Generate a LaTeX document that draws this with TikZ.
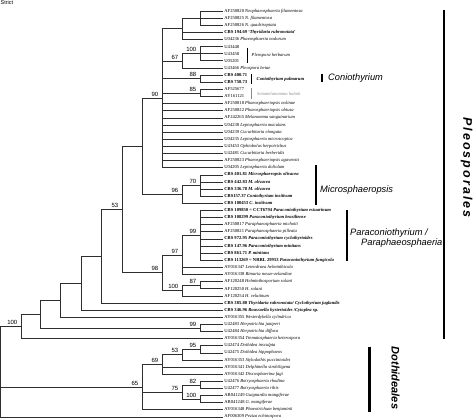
\documentclass[tikz,border=0pt]{standalone}
\usepackage{fontspec}
\setmainfont{Liberation Serif}
\setsansfont{Liberation Sans}
\definecolor{treeline}{HTML}{2E2E2E}
\definecolor{fadegray}{HTML}{8A8A8A}

\begin{document}
\begin{tikzpicture}[x=1pt, y=-1pt,
  br/.style={draw=treeline, line width=0.6pt},
  taxon/.style={anchor=west, inner sep=1.2pt, font=\fontsize{4.6}{5}\selectfont},
  strain/.style={taxon, font=\fontsize{4.6}{5}\selectfont\bfseries},
  bs/.style={anchor=south east, inner sep=0.5pt, xshift=-3pt, yshift=1pt, font=\sffamily\fontsize{6}{6}\selectfont},
  grp/.style={anchor=west, inner sep=0pt, font=\sffamily\itshape\fontsize{9.3}{10}\selectfont},
  ord/.style={rotate=-90, inner sep=0pt, font=\sffamily\bfseries\itshape\fontsize{11}{12}\selectfont},
  clbar/.style={line width=1.8pt},
  spbar/.style={line width=0.7pt},
]
\useasboundingbox (0,0) rectangle (474,420);

\node[anchor=north west, inner sep=0.5pt, font=\sffamily\fontsize{5.5}{6}\selectfont] (title) at (0,0) {Strict};

% Leaves: Pleosporales
\node[taxon] (l1) at (223, 11.0) {AF250820 \textit{Neophaeosphaeria filamentosa}};
\node[taxon] (l2) at (223, 18.1) {AF250825 \textit{N. filamentosa}};
\node[taxon] (l3) at (223, 25.2) {AF250826 \textit{N. quadriseptata}};
\node[strain] (l4) at (223, 32.4) {CBS 194.69 `\textit{Thyridaria rubronotata}'};
\node[taxon] (l5) at (223, 39.5) {U04236 \textit{Phaeosphaeria nodorum}};
\node[taxon] (l6) at (223, 46.6) {U43448};
\node[taxon] (l7) at (223, 53.7) {U43458};
\node[taxon] (l8) at (223, 60.8) {U05201};
\node[taxon] (l9) at (223, 68.0) {U43466 \textit{Pleospora betae}};
\node[strain] (l10) at (223, 75.1) {CBS 400.71};
\node[strain] (l11) at (223, 82.2) {CBS 758.73};
\node[taxon] (l12) at (223, 89.3) {AF525677};
\node[taxon] (l13) at (223, 96.4) {AY161121};
\node[taxon] (l14) at (223, 103.6) {AF250818 \textit{Phaeosphaeriopsis nolinae}};
\node[taxon] (l15) at (223, 110.7) {AF250822 \textit{Phaeosphaeriopsis obtusa}};
\node[taxon] (l16) at (223, 117.8) {AF242265 \textit{Melanomma sanguinarium}};
\node[taxon] (l17) at (223, 124.9) {U04238 \textit{Leptosphaeria maculans}};
\node[taxon] (l18) at (223, 132.0) {U04239 \textit{Cucurbitaria elongata}};
\node[taxon] (l19) at (223, 139.2) {U04235 \textit{Leptosphaeria microscopica}};
\node[taxon] (l20) at (223, 146.3) {U43453 \textit{Ophiobolus herpotrichus}};
\node[taxon] (l21) at (223, 153.4) {U42481 \textit{Cucurbitaria berberidis}};
\node[taxon] (l22) at (223, 160.5) {AF250823 \textit{Phaeosphaeriopsis agavensis}};
\node[taxon] (l23) at (223, 167.6) {U04205 \textit{Leptosphaeria doliolum}};
\node[strain] (l24) at (223, 174.8) {CBS 401.81 \textit{Microsphaeropsis olivacea}};
\node[strain] (l25) at (223, 181.9) {CBS 442.83 \textit{M. olivacea}};
\node[strain] (l26) at (223, 189.0) {CBS 336.78 \textit{M. olivacea}};
\node[strain] (l27) at (223, 196.1) {CBS157.37 \textit{Coniothyrium insitivum}};
\node[strain] (l28) at (223, 203.2) {CBS 100453 \textit{C. insitivum}};
\node[strain] (l29) at (223, 210.4) {CBS 109850 = CCT6794 \textit{Paraconiothyrium estuarinum}};
\node[strain] (l30) at (223, 217.5) {CBS 108299 \textit{Paraconiothyrium brasiliense}};
\node[taxon] (l31) at (223, 224.6) {AF250817 \textit{Paraphaeosphaeria michotii}};
\node[taxon] (l32) at (223, 231.7) {AF250821 \textit{Paraphaeosphaeria pilleata}};
\node[strain] (l33) at (223, 238.8) {CBS 972.95 \textit{Paraconiothyrium cyclothyrioides}};
\node[strain] (l34) at (223, 246.0) {CBS 147.96 \textit{Paraconiothyrium minitans}};
\node[strain] (l35) at (223, 253.1) {CBS 861.71 \textit{P. minitans}};
\node[strain] (l36) at (223, 260.2) {CBS 113269 = NRRL 29953 \textit{Paraconiothyrium fungicola}};
\node[taxon] (l37) at (223, 267.3) {AY016347 \textit{Letendraea helminthicola}};
\node[taxon] (l38) at (223, 274.4) {AY016338 \textit{Bimuria novae-zelandiae}};
\node[taxon] (l39) at (223, 281.6) {AF120248 \textit{Helminthosporium solani}};
\node[taxon] (l40) at (223, 288.7) {AF120250 \textit{H. solani}};
\node[taxon] (l41) at (223, 295.8) {AF120254 \textit{H. velutinum}};
\node[strain] (l42) at (223, 302.9) {CBS 385.80 \textit{Thyridaria rubronotata}/ \textit{Cyclothyrium juglandis}};
\node[strain] (l43) at (223, 310.0) {CBS 346.96 \textit{Roussoella hysterioides} /\textit{Cytoplea} sp.};
\node[taxon] (l44) at (223, 317.2) {AY016355 \textit{Westerdykella cylindrica}};
\node[taxon] (l45) at (223, 324.3) {U42483 \textit{Herpotrichia juniperi}};
\node[taxon] (l46) at (223, 331.4) {U42484 \textit{Herpotrichia diffusa}};
\node[taxon] (l47) at (223, 338.5) {AY016354 \textit{Trematosphaeria heterospora}};

% Leaves: Dothideales and outgroup
\node[taxon] (l48) at (223, 345.6) {U42474 \textit{Dothidea insculpta}};
\node[taxon] (l49) at (223, 352.8) {U42475 \textit{Dothidea hippophaeos}};
\node[taxon] (l50) at (223, 359.9) {AY016353 \textit{Stylodothis puccinioides}};
\node[taxon] (l51) at (223, 367.0) {AY016341 \textit{Delphinella strobiligena}};
\node[taxon] (l52) at (223, 374.1) {AY016342 \textit{Discosphaerina fagi}};
\node[taxon] (l53) at (223, 381.2) {U42476 \textit{Botryosphaeria rhodina}};
\node[taxon] (l54) at (223, 388.4) {U42477 \textit{Botryosphaeria ribis}};
\node[taxon] (l55) at (223, 395.5) {AB041249 \textit{Guignardia mangiferae}};
\node[taxon] (l56) at (223, 402.6) {AB041248 \textit{G. mangiferae}};
\node[taxon] (l57) at (223, 409.7) {AY016348 \textit{Phaeotrichum benjaminii}};
\node[taxon] (l58) at (223, 416.8) {AF006309 \textit{Peziza echinospora}};

% Internal nodes
\coordinate (root) at (0.4, 371.5);
\coordinate (n100a) at (21, 326.25);
\coordinate (nE) at (40, 314);
\coordinate (nD) at (60, 300.15);
\coordinate (nC) at (81, 283.1);
\coordinate (nB) at (101, 256.2);
\coordinate (n53) at (122, 209.5);
\coordinate (nA) at (142, 146.25);
\coordinate (n90) at (162, 98.2);
\coordinate (nNeo) at (182, 28.8);
\coordinate (nNeo3) at (200, 18.1);
\coordinate (n67) at (182, 60.85);
\coordinate (nPle) at (200, 53.7);
\coordinate (n88) at (200, 78.65);
\coordinate (n85) at (200, 92.85);
\coordinate (n96) at (182, 194.3);
\coordinate (n70) at (200, 185.45);
\coordinate (n98) at (162, 272.7);
\coordinate (n97) at (182, 254.85);
\coordinate (n99a) at (200, 235.3);
\coordinate (n100b) at (182, 290.5);
\coordinate (n87) at (200, 285.15);
\coordinate (n99b) at (200, 327.85);
\coordinate (n65) at (142, 387);
\coordinate (n69) at (162, 364.3);
\coordinate (n53b) at (182, 354.55);
\coordinate (n95) at (200, 349.2);
\coordinate (n75) at (182, 391.9);
\coordinate (n82) at (200, 384.8);
\coordinate (n100c) at (200, 399.05);

% Branches
\draw[br] (root) |- (n100a) (root) |- (n65) (root) |- (l58.west);
\draw[br] (n100a) |- (nE) (n100a) |- (l47.west);
\draw[br] (nE) |- (nD) (nE) |- (n99b);
\draw[br] (nD) |- (nC) (nD) |- (l44.west);
\draw[br] (nC) |- (nB) (nC) |- (l43.west);
\draw[br] (nB) |- (n53) (nB) |- (l42.west);
\draw[br] (n53) |- (nA) (n53) |- (n98);
\draw[br] (nA) |- (n90) (nA) |- (n96);
\draw[br] (n90) |- (nNeo) (n90) |- (n67) (n90) |- (n88) (n90) |- (n85)
  (n90) |- (l14.west) (n90) |- (l15.west) (n90) |- (l16.west) (n90) |- (l17.west)
  (n90) |- (l18.west) (n90) |- (l19.west) (n90) |- (l20.west) (n90) |- (l21.west)
  (n90) |- (l22.west) (n90) |- (l23.west);
\draw[br] (nNeo) |- (nNeo3) (nNeo) |- (l4.west) (nNeo) |- (l5.west);
\draw[br] (nNeo3) |- (l1.west) (nNeo3) |- (l2.west) (nNeo3) |- (l3.west);
\draw[br] (n67) |- (nPle) (n67) |- (l9.west);
\draw[br] (nPle) |- (l6.west) (nPle) |- (l7.west) (nPle) |- (l8.west);
\draw[br] (n88) |- (l10.west) (n88) |- (l11.west);
\draw[br] (n85) |- (l12.west) (n85) |- (l13.west);
\draw[br] (n96) |- (n70) (n96) |- (l28.west);
\draw[br] (n70) |- (l24.west) (n70) |- (l25.west) (n70) |- (l26.west) (n70) |- (l27.west);
\draw[br] (n98) |- (n97) (n98) |- (n100b);
\draw[br] (n97) |- (n99a) (n97) |- (l37.west) (n97) |- (l38.west);
\draw[br] (n99a) |- (l29.west) (n99a) |- (l30.west) (n99a) |- (l31.west) (n99a) |- (l32.west)
  (n99a) |- (l33.west) (n99a) |- (l34.west) (n99a) |- (l35.west) (n99a) |- (l36.west);
\draw[br] (n100b) |- (n87) (n100b) |- (l41.west);
\draw[br] (n87) |- (l39.west) (n87) |- (l40.west);
\draw[br] (n99b) |- (l45.west) (n99b) |- (l46.west);
\draw[br] (n65) |- (n69) (n65) |- (n75) (n65) |- (l57.west);
\draw[br] (n69) |- (n53b) (n69) |- (l51.west) (n69) |- (l52.west);
\draw[br] (n53b) |- (n95) (n53b) |- (l50.west);
\draw[br] (n95) |- (l48.west) (n95) |- (l49.west);
\draw[br] (n75) |- (n82) (n75) |- (n100c);
\draw[br] (n82) |- (l53.west) (n82) |- (l54.west);
\draw[br] (n100c) |- (l55.west) (n100c) |- (l56.west);

% Bootstrap values
\node[bs] (b100a) at (n100a) {100};
\node[bs] (b53) at (n53) {53};
\node[bs] (b90) at (n90) {90};
\node[bs] (bPle) at (nPle) {100};
\node[bs] (b67) at (n67) {67};
\node[bs] (b88) at (n88) {88};
\node[bs] (b85) at (n85) {85};
\node[bs] (b70) at (n70) {70};
\node[bs] (b96) at (n96) {96};
\node[bs] (b98) at (n98) {98};
\node[bs] (b97) at (n97) {97};
\node[bs] (b99a) at (n99a) {99};
\node[bs] (b87) at (n87) {87};
\node[bs] (b100b) at (n100b) {100};
\node[bs] (b99b) at (n99b) {99};
\node[bs] (b65) at (n65) {65};
\node[bs] (b69) at (n69) {69};
\node[bs] (b53b) at (n53b) {53};
\node[bs] (b95) at (n95) {95};
\node[bs] (b75) at (n75) {75};
\node[bs] (b82) at (n82) {82};
\node[bs] (b100c) at (n100c) {100};

% Species brackets
\draw[spbar] (247, 47.7) -- (247, 63.3);
\node[taxon, inner sep=0pt] (pherb) at (251.5, 55) {\textit{Pleospora herbarum}};
\draw[spbar, line width=1pt] (251.5, 74.3) -- (251.5, 84.3);
\node[taxon, inner sep=0pt] (cpalm) at (256.5, 79) {\textbf{\textit{Coniothyrium palmarum}}};
\draw[spbar, fadegray] (251.5, 87.7) -- (251.5, 99.3);
\node[taxon, inner sep=0pt, text=fadegray] (sholm) at (257, 93.5) {\textit{Setomelanomma holmii}};

% Genus brackets
\draw[clbar] (322, 74) -- (322, 82);
\node[grp] (coni) at (328, 78) {Coniothyrium};
\draw[clbar] (316, 165) -- (316, 205);
\node[grp] (micro) at (320, 190.5) {Microsphaeropsis};
\draw[clbar] (347.3, 210) -- (347.3, 260.7);
\node[grp] (paraA) at (350, 233.3) {Paraconiothyrium /};
\node[grp] (paraB) at (361, 243.3) {Paraphaeosphaeria};

% Orders
\draw[clbar, line width=2.2pt] (443.8, 10) -- (443.8, 339.3);
\node[ord, font=\sffamily\bfseries\itshape\fontsize{12.5}{13}\selectfont\addfontfeature{LetterSpace=16}] (pleo) at (466.5, 167.5) {Pleosporales};
\draw[clbar, line width=2.2pt] (369.5, 346.7) -- (369.5, 411.7);
\node[ord] (doth) at (395.5, 378) {Dothideales};

\end{tikzpicture}
\end{document}
